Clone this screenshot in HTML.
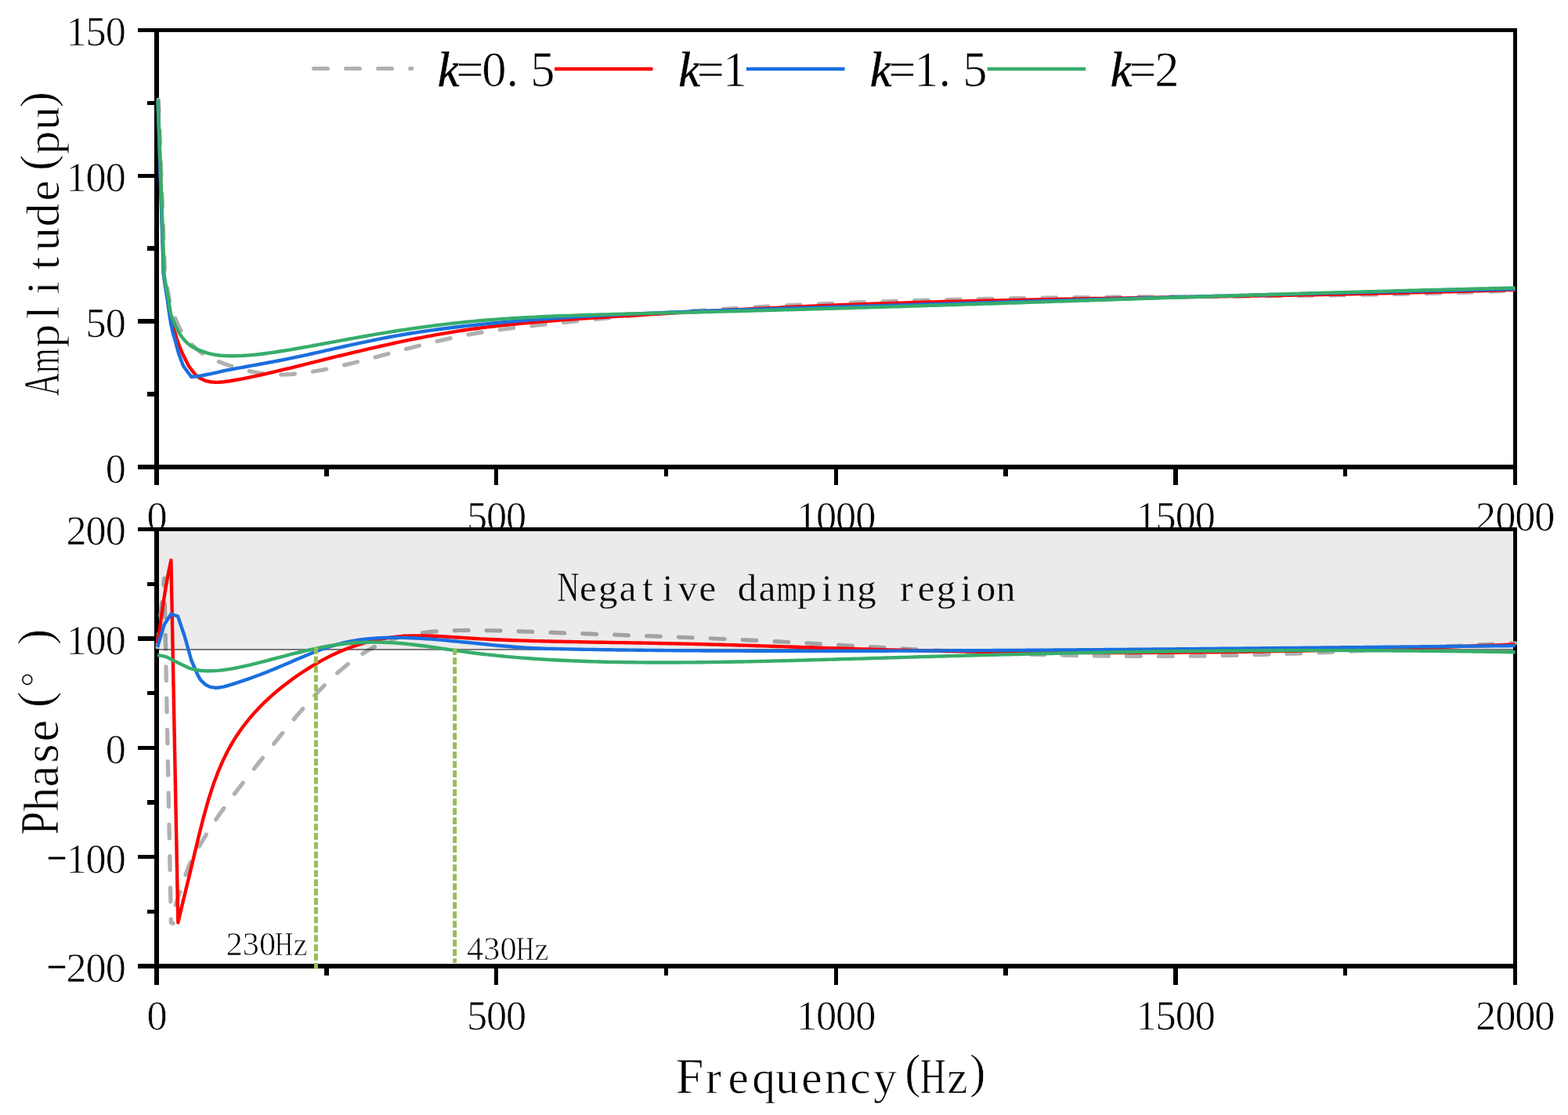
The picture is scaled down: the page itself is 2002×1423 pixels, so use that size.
<!DOCTYPE html>
<html lang="en"><head><meta charset="utf-8"><title>Amplitude and phase versus frequency</title>
<style>html,body{margin:0;padding:0;background:#fff;overflow:hidden}svg{display:block}text{font-family:'Liberation Serif',serif;fill:#000;white-space:pre;stroke:#fff;stroke-width:0.7px}.ong text{stroke:#ebebeb;stroke-width:0.4px}</style>
</head><body>
<svg width="2002" height="1423" viewBox="0 0 2002 1423">
<desc>Amplitude(pu) Phase(°) Frequency(Hz) Negative damping region 230Hz 430Hz k=0.5 k=1 k=1.5 k=2</desc>
<rect width="2002" height="1423" fill="#fff"/>
<g id="top-plot">
<g stroke="#000" fill="none" shape-rendering="crispEdges">
<path stroke-width="5.5" d="M197.2 38.3 H1937.1"/>
<path stroke-width="5.2" d="M1934.5 38.3 V619"/>
<path stroke-width="6" d="M200.2 35.8 V619"/>
<path stroke-width="6" d="M175.9 596 H1937"/>
<path stroke-width="5.4" d="M175.9 410.1H200.2M175.9 224.2H200.2M175.9 38.3H200.2M188.2 503.05H200.2M188.2 317.15H200.2M188.2 131.25H200.2M633.77 596V619M1067.35 596V619M1500.92 596V619M416.99 596V607.5M850.56 596V607.5M1284.14 596V607.5M1717.71 596V607.5"/>
</g>
<g id="top-yticks">
<text font-size="52.3" text-anchor="middle" aria-label="0"><tspan x="147.8" y="615.5">0</tspan></text>
<text font-size="52.3" text-anchor="middle" aria-label="50"><tspan x="122.7 147.8" y="429.6">50</tspan></text>
<text font-size="52.3" text-anchor="middle" aria-label="100"><tspan x="97.6 122.7 147.8" y="243.7">100</tspan></text>
<text font-size="52.3" text-anchor="middle" aria-label="150"><tspan x="97.6 122.7 147.8" y="57.8">150</tspan></text>
</g>
<g id="top-xticks">
<text font-size="52.3" text-anchor="middle" aria-label="0"><tspan x="200.5" y="677.3">0</tspan></text>
<text font-size="52.3" text-anchor="middle" aria-label="500"><tspan x="608.97 634.07 659.17" y="677.3">500</tspan></text>
<text font-size="52.3" text-anchor="middle" aria-label="1000"><tspan x="1030 1055.1 1080.2 1105.3" y="677.3">1000</tspan></text>
<text font-size="52.3" text-anchor="middle" aria-label="1500"><tspan x="1463.57 1488.67 1513.77 1538.88" y="677.3">1500</tspan></text>
<text font-size="52.3" text-anchor="middle" aria-label="2000"><tspan x="1897.15 1922.25 1947.35 1972.45" y="677.3">2000</tspan></text>
</g>
<g fill="none" stroke-linejoin="round" stroke-linecap="butt">
<g transform="scale(1.0135,1)"><path fill="none" stroke="#b0b0b0" stroke-width="5.2" stroke-linecap="round" stroke-linejoin="round" stroke-dasharray="17.3 23" stroke-dashoffset="1" d="M199.61 127 L207.2 335 L207.6 349 L210.75 367.6 L212.53 377.7 L213.52 383.9 L216.58 395 L220.62 405.8 L223.38 413 L227.33 421 L233.35 430.5 L239.76 438 L247.16 445 L254.56 451 L260.48 454.27 L266.4 457.35 L272.32 460.1 L278.24 462.57 L284.16 464.81 L290.08 466.87 L296 468.78 L301.92 470.54 L307.84 472.14 L313.76 473.55 L319.68 474.79 L325.6 475.83 L331.52 476.68 L337.44 477.32 L343.36 477.77 L349.28 478.01 L355.2 478.05 L361.12 477.89 L367.04 477.55 L372.96 477.06 L378.89 476.42 L384.81 475.66 L390.73 474.78 L396.65 473.8 L402.57 472.73 L408.49 471.58 L414.41 470.35 L420.33 469.07 L426.25 467.72 L432.17 466.32 L438.09 464.89 L444.01 463.41 L449.93 461.9 L455.85 460.37 L461.77 458.82 L467.69 457.25 L473.61 455.66 L479.53 454.07 L485.45 452.47 L491.37 450.87 L497.29 449.27 L503.21 447.67 L509.13 446.09 L515.05 444.52 L520.97 442.96 L526.89 441.43 L532.81 439.92 L538.73 438.44 L544.65 436.99 L550.57 435.57 L556.49 434.18 L562.41 432.84 L568.33 431.53 L574.25 430.27 L580.17 429.05 L586.09 427.88 L592.01 426.76 L597.93 425.68 L603.85 424.66 L609.77 423.69 L615.69 422.76 L621.61 421.88 L627.53 421.04 L633.45 420.23 L639.37 419.46 L645.29 418.71 L651.21 417.98 L657.13 417.28 L663.05 416.6 L668.97 415.93 L674.89 415.27 L680.81 414.62 L686.73 413.98 L692.65 413.34 L698.57 412.71 L704.49 412.08 L710.41 411.45 L716.33 410.83 L722.25 410.21 L728.17 409.6 L734.09 408.99 L740.01 408.39 L745.93 407.79 L751.85 407.21 L757.77 406.62 L763.69 406.05 L769.61 405.48 L775.53 404.92 L781.45 404.37 L787.37 403.83 L793.29 403.29 L799.21 402.77 L805.13 402.25 L811.05 401.75 L816.97 401.25 L822.89 400.76 L828.81 400.28 L834.73 399.8 L840.65 399.34 L846.57 398.88 L852.49 398.43 L858.41 397.99 L864.33 397.56 L870.25 397.13 L876.17 396.71 L882.09 396.3 L888.01 395.89 L893.93 395.49 L899.85 395.1 L905.77 394.72 L911.69 394.34 L917.61 393.97 L923.53 393.6 L929.45 393.25 L935.37 392.89 L941.29 392.55 L947.21 392.21 L953.13 391.87 L959.05 391.55 L964.97 391.22 L970.89 390.91 L976.81 390.6 L982.73 390.29 L988.65 389.99 L994.57 389.7 L1000.49 389.41 L1006.41 389.12 L1012.33 388.84 L1018.25 388.57 L1024.17 388.3 L1030.09 388.04 L1036.01 387.78 L1041.93 387.53 L1047.85 387.28 L1053.77 387.03 L1059.69 386.79 L1065.61 386.56 L1071.53 386.33 L1077.45 386.1 L1083.37 385.88 L1089.29 385.66 L1095.21 385.45 L1101.13 385.24 L1107.05 385.04 L1112.97 384.84 L1118.89 384.64 L1124.81 384.45 L1130.74 384.26 L1136.66 384.08 L1142.58 383.9 L1148.5 383.72 L1154.42 383.55 L1160.34 383.38 L1166.26 383.21 L1172.18 383.05 L1178.1 382.89 L1184.02 382.74 L1189.94 382.59 L1195.86 382.44 L1201.78 382.29 L1207.7 382.15 L1213.62 382.02 L1219.54 381.88 L1225.46 381.75 L1231.38 381.62 L1237.3 381.5 L1243.22 381.38 L1249.14 381.26 L1255.06 381.15 L1260.98 381.03 L1266.9 380.93 L1272.82 380.82 L1278.74 380.72 L1284.66 380.62 L1290.58 380.52 L1296.5 380.43 L1302.42 380.33 L1308.34 380.25 L1314.26 380.16 L1320.18 380.08 L1326.1 380 L1332.02 379.92 L1337.94 379.84 L1343.86 379.77 L1349.78 379.7 L1355.7 379.63 L1361.62 379.57 L1367.54 379.51 L1373.46 379.45 L1379.38 379.39 L1385.3 379.33 L1391.22 379.28 L1397.14 379.23 L1403.06 379.18 L1408.98 379.13 L1414.9 379.08 L1420.82 379.04 L1426.74 378.99 L1432.66 378.95 L1438.58 378.91 L1444.5 378.87 L1450.42 378.83 L1456.34 378.79 L1462.26 378.75 L1468.18 378.71 L1474.1 378.67 L1480.02 378.63 L1485.94 378.59 L1491.86 378.56 L1497.78 378.52 L1503.7 378.48 L1509.62 378.44 L1515.54 378.4 L1521.46 378.36 L1527.38 378.32 L1533.3 378.28 L1539.22 378.24 L1545.14 378.2 L1551.06 378.16 L1556.98 378.11 L1562.9 378.07 L1568.82 378.02 L1574.74 377.97 L1580.66 377.92 L1586.58 377.87 L1592.5 377.82 L1598.42 377.77 L1604.34 377.71 L1610.26 377.66 L1616.18 377.6 L1622.1 377.54 L1628.02 377.47 L1633.94 377.41 L1639.86 377.34 L1645.78 377.27 L1651.7 377.2 L1657.62 377.13 L1663.54 377.05 L1669.46 376.97 L1675.38 376.89 L1681.3 376.81 L1687.22 376.72 L1693.14 376.63 L1699.06 376.54 L1704.98 376.44 L1710.9 376.34 L1716.82 376.24 L1722.74 376.14 L1728.66 376.03 L1734.58 375.92 L1740.5 375.81 L1746.42 375.69 L1752.34 375.57 L1758.26 375.44 L1764.18 375.32 L1770.1 375.18 L1776.02 375.05 L1781.94 374.91 L1787.86 374.77 L1793.78 374.62 L1799.7 374.47 L1805.62 374.32 L1811.54 374.16 L1817.46 374 L1823.38 373.84 L1829.3 373.67 L1835.22 373.49 L1841.14 373.32 L1847.06 373.13 L1852.98 372.95 L1858.9 372.76 L1864.82 372.56 L1870.74 372.36 L1876.67 372.16 L1882.59 371.95 L1888.51 371.74 L1894.43 371.52 L1900.35 371.3 L1906.27 371.07 L1908.73 370.98"/></g>
<path stroke="#ff0000" stroke-width="4.4" d="M201.6 127 L208.7 335 L209 349 L210.3 357 L212.6 371 L215 385 L217.3 401 L220.6 417 L223.4 425 L226.2 434 L228.8 441 L232.9 451 L240.9 467 L246.9 475 L250 478.79 L256 483.1 L262 485.77 L268 487.24 L274 487.83 L280 487.79 L286 487.3 L292 486.51 L298 485.53 L304 484.44 L310 483.29 L316 482.09 L322 480.84 L328 479.55 L334 478.23 L340 476.88 L346 475.49 L352 474.09 L358 472.67 L364 471.22 L370 469.77 L376 468.3 L382 466.83 L388 465.35 L394 463.86 L400 462.37 L406 460.88 L412 459.4 L418 457.92 L424 456.44 L430 454.97 L436 453.51 L442 452.06 L448 450.62 L454 449.19 L460 447.77 L466 446.37 L472 444.98 L478 443.6 L484 442.24 L490 440.89 L496 439.56 L502 438.25 L508 436.96 L514 435.69 L520 434.44 L526 433.21 L532 432.01 L538 430.83 L544 429.68 L550 428.55 L556 427.46 L562 426.39 L568 425.35 L574 424.35 L580 423.37 L586 422.43 L592 421.51 L598 420.63 L604 419.79 L610 418.97 L616 418.19 L622 417.44 L628 416.71 L634 416.01 L640 415.34 L646 414.69 L652 414.06 L658 413.46 L664 412.87 L670 412.3 L676 411.76 L682 411.22 L688 410.71 L694 410.21 L700 409.72 L706 409.25 L712 408.79 L718 408.34 L724 407.9 L730 407.47 L736 407.05 L742 406.64 L748 406.24 L754 405.84 L760 405.45 L766 405.07 L772 404.69 L778 404.32 L784 403.94 L790 403.58 L796 403.21 L802 402.85 L808 402.49 L814 402.14 L820 401.78 L826 401.43 L832 401.08 L838 400.73 L844 400.38 L850 400.04 L856 399.69 L862 399.35 L868 399.02 L874 398.68 L880 398.35 L886 398.02 L892 397.7 L898 397.37 L904 397.05 L910 396.73 L916 396.42 L922 396.11 L928 395.8 L934 395.49 L940 395.19 L946 394.89 L952 394.59 L958 394.29 L964 394 L970 393.71 L976 393.43 L982 393.14 L988 392.87 L994 392.59 L1000 392.32 L1006 392.05 L1012 391.78 L1018 391.52 L1024 391.26 L1030 391 L1036 390.75 L1042 390.5 L1048 390.25 L1054 390.01 L1060 389.77 L1066 389.53 L1072 389.3 L1078 389.07 L1084 388.84 L1090 388.62 L1096 388.4 L1102 388.18 L1108 387.97 L1114 387.76 L1120 387.56 L1126 387.35 L1132 387.16 L1138 386.96 L1144 386.77 L1150 386.58 L1156 386.4 L1162 386.22 L1168 386.04 L1174 385.87 L1180 385.7 L1186 385.53 L1192 385.37 L1198 385.2 L1204 385.05 L1210 384.89 L1216 384.74 L1222 384.59 L1228 384.44 L1234 384.3 L1240 384.15 L1246 384.01 L1252 383.88 L1258 383.74 L1264 383.61 L1270 383.48 L1276 383.35 L1282 383.22 L1288 383.09 L1294 382.97 L1300 382.85 L1306 382.73 L1312 382.61 L1318 382.49 L1324 382.37 L1330 382.26 L1336 382.14 L1342 382.03 L1348 381.92 L1354 381.81 L1360 381.7 L1366 381.59 L1372 381.49 L1378 381.38 L1384 381.28 L1390 381.17 L1396 381.07 L1402 380.96 L1408 380.86 L1414 380.76 L1420 380.66 L1426 380.56 L1432 380.46 L1438 380.36 L1444 380.26 L1450 380.16 L1456 380.06 L1462 379.96 L1468 379.86 L1474 379.76 L1480 379.66 L1486 379.56 L1492 379.47 L1498 379.37 L1504 379.27 L1510 379.17 L1516 379.07 L1522 378.97 L1528 378.87 L1534 378.77 L1540 378.67 L1546 378.57 L1552 378.47 L1558 378.37 L1564 378.26 L1570 378.16 L1576 378.06 L1582 377.95 L1588 377.85 L1594 377.74 L1600 377.64 L1606 377.53 L1612 377.42 L1618 377.32 L1624 377.21 L1630 377.1 L1636 376.99 L1642 376.88 L1648 376.76 L1654 376.65 L1660 376.54 L1666 376.42 L1672 376.3 L1678 376.19 L1684 376.07 L1690 375.95 L1696 375.83 L1702 375.7 L1708 375.58 L1714 375.46 L1720 375.33 L1726 375.2 L1732 375.07 L1738 374.94 L1744 374.81 L1750 374.68 L1756 374.55 L1762 374.41 L1768 374.27 L1774 374.14 L1780 374 L1786 373.86 L1792 373.71 L1798 373.57 L1804 373.42 L1810 373.27 L1816 373.12 L1822 372.97 L1828 372.82 L1834 372.67 L1840 372.51 L1846 372.35 L1852 372.19 L1858 372.03 L1864 371.87 L1870 371.7 L1876 371.54 L1882 371.37 L1888 371.2 L1894 371.03 L1900 370.85 L1906 370.68 L1912 370.5 L1918 370.32 L1924 370.14 L1930 369.95 L1934.5 369.81"/>
<path stroke="#1a6fdf" stroke-width="4.4" d="M201.4 127 L208.3 335 L208.6 349 L209.2 352.8 L210.2 360.8 L211.2 366.9 L212.2 373.3 L213.2 379.7 L214.2 385.6 L216.2 401 L218.2 413 L220.8 425 L223.5 434 L228 451 L234 467 L244.3 481 L253 480.1 L262 478.5 L270 476.9 L277 475.4 L284 473.67 L290 472.45 L296 471.29 L302 470.16 L308 469.06 L314 467.97 L320 466.89 L326 465.81 L332 464.72 L338 463.61 L344 462.5 L350 461.37 L356 460.22 L362 459.04 L368 457.85 L374 456.63 L380 455.39 L386 454.12 L392 452.82 L398 451.5 L404 450.16 L410 448.8 L416 447.44 L422 446.08 L428 444.72 L434 443.36 L440 442.02 L446 440.69 L452 439.37 L458 438.07 L464 436.79 L470 435.53 L476 434.3 L482 433.09 L488 431.91 L494 430.77 L500 429.65 L506 428.57 L512 427.52 L518 426.5 L524 425.52 L530 424.57 L536 423.65 L542 422.76 L548 421.89 L554 421.06 L560 420.25 L566 419.46 L572 418.7 L578 417.96 L584 417.24 L590 416.54 L596 415.86 L602 415.21 L608 414.57 L614 413.95 L620 413.34 L626 412.76 L632 412.19 L638 411.63 L644 411.09 L650 410.57 L656 410.06 L662 409.56 L668 409.08 L674 408.6 L680 408.14 L686 407.7 L692 407.26 L698 406.84 L704 406.42 L710 406.02 L716 405.62 L722 405.24 L728 404.86 L734 404.49 L740 404.14 L746 403.79 L752 403.44 L758 403.11 L764 402.78 L770 402.46 L776 402.15 L782 401.85 L788 401.55 L794 401.25 L800 400.97 L806 400.68 L812 400.41 L818 400.14 L824 399.87 L830 399.61 L836 399.36 L842 399.11 L848 398.86 L854 398.62 L860 398.38 L866 398.15 L872 397.92 L878 397.69 L884 397.47 L890 397.25 L896 397.04 L902 396.82 L908 396.61 L914 396.41 L920 396.2 L926 396 L932 395.8 L938 395.6 L944 395.41 L950 395.22 L956 395.03 L962 394.84 L968 394.65 L974 394.46 L980 394.28 L986 394.1 L992 393.92 L998 393.74 L1004 393.56 L1010 393.38 L1016 393.2 L1022 393.03 L1028 392.85 L1034 392.68 L1040 392.51 L1046 392.34 L1052 392.16 L1058 391.99 L1064 391.82 L1070 391.65 L1076 391.48 L1082 391.31 L1088 391.14 L1094 390.97 L1100 390.8 L1106 390.63 L1112 390.46 L1118 390.29 L1124 390.12 L1130 389.95 L1136 389.78 L1142 389.6 L1148 389.43 L1154 389.26 L1160 389.09 L1166 388.91 L1172 388.74 L1178 388.57 L1184 388.39 L1190 388.22 L1196 388.04 L1202 387.87 L1208 387.7 L1214 387.52 L1220 387.35 L1226 387.17 L1232 387 L1238 386.82 L1244 386.65 L1250 386.47 L1256 386.29 L1262 386.12 L1268 385.94 L1274 385.77 L1280 385.59 L1286 385.42 L1292 385.24 L1298 385.07 L1304 384.89 L1310 384.72 L1316 384.54 L1322 384.37 L1328 384.2 L1334 384.02 L1340 383.85 L1346 383.67 L1352 383.5 L1358 383.33 L1364 383.15 L1370 382.98 L1376 382.81 L1382 382.64 L1388 382.46 L1394 382.29 L1400 382.12 L1406 381.95 L1412 381.78 L1418 381.61 L1424 381.44 L1430 381.27 L1436 381.1 L1442 380.93 L1448 380.76 L1454 380.59 L1460 380.42 L1466 380.25 L1472 380.09 L1478 379.92 L1484 379.75 L1490 379.59 L1496 379.42 L1502 379.25 L1508 379.09 L1514 378.93 L1520 378.76 L1526 378.6 L1532 378.44 L1538 378.27 L1544 378.11 L1550 377.95 L1556 377.79 L1562 377.63 L1568 377.47 L1574 377.31 L1580 377.15 L1586 376.99 L1592 376.83 L1598 376.68 L1604 376.52 L1610 376.36 L1616 376.21 L1622 376.05 L1628 375.9 L1634 375.74 L1640 375.59 L1646 375.44 L1652 375.29 L1658 375.13 L1664 374.98 L1670 374.83 L1676 374.68 L1682 374.53 L1688 374.39 L1694 374.24 L1700 374.09 L1706 373.95 L1712 373.8 L1718 373.66 L1724 373.51 L1730 373.37 L1736 373.22 L1742 373.08 L1748 372.94 L1754 372.8 L1760 372.66 L1766 372.52 L1772 372.38 L1778 372.24 L1784 372.11 L1790 371.97 L1796 371.83 L1802 371.7 L1808 371.56 L1814 371.43 L1820 371.3 L1826 371.16 L1832 371.03 L1838 370.9 L1844 370.77 L1850 370.64 L1856 370.51 L1862 370.39 L1868 370.26 L1874 370.13 L1880 370.01 L1886 369.88 L1892 369.76 L1898 369.63 L1904 369.51 L1910 369.39 L1916 369.27 L1922 369.15 L1928 369.03 L1934 368.91 L1934.5 368.9"/>
<path stroke="#37ad6b" stroke-width="4.4" d="M201.8 127 L209.1 335 L209.4 349 L211.5 363 L213.7 375 L215.8 386 L218 401 L222.8 413 L228.6 425 L234.5 433 L238.8 437.6 L244.1 441.8 L250 445 L256.1 447.7 L262 449.7 L264 450.35 L270 451.89 L276 452.98 L282 453.7 L288 454.13 L294 454.32 L300 454.32 L306 454.14 L312 453.82 L318 453.37 L324 452.83 L330 452.19 L336 451.48 L342 450.7 L348 449.86 L354 448.97 L360 448.03 L366 447.07 L372 446.06 L378 445.04 L384 443.99 L390 442.92 L396 441.83 L402 440.74 L408 439.64 L414 438.53 L420 437.42 L426 436.31 L432 435.21 L438 434.1 L444 433.01 L450 431.92 L456 430.85 L462 429.78 L468 428.73 L474 427.69 L480 426.66 L486 425.65 L492 424.66 L498 423.68 L504 422.72 L510 421.79 L516 420.87 L522 419.97 L528 419.09 L534 418.24 L540 417.41 L546 416.6 L552 415.81 L558 415.05 L564 414.31 L570 413.59 L576 412.91 L582 412.24 L588 411.6 L594 410.99 L600 410.4 L606 409.84 L612 409.3 L618 408.79 L624 408.31 L630 407.85 L636 407.41 L642 406.99 L648 406.6 L654 406.22 L660 405.86 L666 405.51 L672 405.19 L678 404.88 L684 404.58 L690 404.29 L696 404.02 L702 403.76 L708 403.52 L714 403.28 L720 403.05 L726 402.83 L732 402.62 L738 402.42 L744 402.23 L750 402.04 L756 401.85 L762 401.68 L768 401.51 L774 401.34 L780 401.17 L786 401.01 L792 400.86 L798 400.7 L804 400.55 L810 400.4 L816 400.25 L822 400.1 L828 399.95 L834 399.8 L840 399.66 L846 399.51 L852 399.36 L858 399.21 L864 399.06 L870 398.9 L876 398.75 L882 398.6 L888 398.45 L894 398.29 L900 398.14 L906 397.98 L912 397.83 L918 397.67 L924 397.51 L930 397.35 L936 397.2 L942 397.04 L948 396.88 L954 396.72 L960 396.55 L966 396.39 L972 396.23 L978 396.07 L984 395.9 L990 395.74 L996 395.57 L1002 395.41 L1008 395.24 L1014 395.07 L1020 394.91 L1026 394.74 L1032 394.57 L1038 394.4 L1044 394.23 L1050 394.06 L1056 393.88 L1062 393.71 L1068 393.54 L1074 393.36 L1080 393.19 L1086 393.01 L1092 392.84 L1098 392.66 L1104 392.48 L1110 392.3 L1116 392.12 L1122 391.94 L1128 391.76 L1134 391.58 L1140 391.4 L1146 391.22 L1152 391.04 L1158 390.85 L1164 390.67 L1170 390.48 L1176 390.3 L1182 390.11 L1188 389.92 L1194 389.73 L1200 389.54 L1206 389.36 L1212 389.17 L1218 388.97 L1224 388.78 L1230 388.59 L1236 388.4 L1242 388.21 L1248 388.01 L1254 387.82 L1260 387.62 L1266 387.43 L1272 387.23 L1278 387.04 L1284 386.84 L1290 386.64 L1296 386.45 L1302 386.25 L1308 386.05 L1314 385.85 L1320 385.66 L1326 385.46 L1332 385.26 L1338 385.06 L1344 384.86 L1350 384.66 L1356 384.47 L1362 384.27 L1368 384.07 L1374 383.87 L1380 383.67 L1386 383.47 L1392 383.27 L1398 383.07 L1404 382.88 L1410 382.68 L1416 382.48 L1422 382.28 L1428 382.08 L1434 381.89 L1440 381.69 L1446 381.49 L1452 381.29 L1458 381.1 L1464 380.9 L1470 380.71 L1476 380.51 L1482 380.31 L1488 380.12 L1494 379.92 L1500 379.73 L1506 379.54 L1512 379.34 L1518 379.15 L1524 378.96 L1530 378.76 L1536 378.57 L1542 378.38 L1548 378.19 L1554 378 L1560 377.81 L1566 377.62 L1572 377.43 L1578 377.24 L1584 377.06 L1590 376.87 L1596 376.68 L1602 376.5 L1608 376.31 L1614 376.13 L1620 375.94 L1626 375.76 L1632 375.58 L1638 375.4 L1644 375.22 L1650 375.03 L1656 374.86 L1662 374.68 L1668 374.5 L1674 374.32 L1680 374.14 L1686 373.97 L1692 373.79 L1698 373.62 L1704 373.44 L1710 373.27 L1716 373.1 L1722 372.93 L1728 372.76 L1734 372.59 L1740 372.42 L1746 372.25 L1752 372.08 L1758 371.92 L1764 371.75 L1770 371.59 L1776 371.42 L1782 371.26 L1788 371.1 L1794 370.94 L1800 370.78 L1806 370.62 L1812 370.46 L1818 370.31 L1824 370.15 L1830 369.99 L1836 369.84 L1842 369.69 L1848 369.53 L1854 369.38 L1860 369.23 L1866 369.08 L1872 368.94 L1878 368.79 L1884 368.64 L1890 368.5 L1896 368.35 L1902 368.21 L1908 368.07 L1914 367.93 L1920 367.79 L1926 367.65 L1932 367.51 L1934.5 367.46"/>
</g>
<g id="legend">
<path d="M400.5 87.5 H526" fill="none" stroke="#b0b0b0" stroke-width="5" stroke-linecap="round" stroke-dasharray="18 23"/>
<path d="M708 88 h125.5" fill="none" stroke="#ff0000" stroke-width="4.4"/>
<path d="M953 88 h125.5" fill="none" stroke="#1a6fdf" stroke-width="4.4"/>
<path d="M1260.6 88 h125.5" fill="none" stroke="#37ad6b" stroke-width="4.4"/>
<text font-size="62.5" text-anchor="middle" aria-label="k=0.5"><tspan x="572.5" y="109.6" font-style="italic" stroke="#000" stroke-width="0.5">k</tspan><tspan x="599.8 630.85 654.4 692.95" y="109.6">=0.5</tspan></text>
<text font-size="62.5" text-anchor="middle" aria-label="k=1"><tspan x="880" y="109.6" font-style="italic" stroke="#000" stroke-width="0.5">k</tspan><tspan x="907.3 938.35" y="109.6">=1</tspan></text>
<text font-size="62.5" text-anchor="middle" aria-label="k=1.5"><tspan x="1124.5" y="109.6" font-style="italic" stroke="#000" stroke-width="0.5">k</tspan><tspan x="1151.8 1182.85 1206.4 1244.95" y="109.6">=1.5</tspan></text>
<text font-size="62.5" text-anchor="middle" aria-label="k=2"><tspan x="1431.5" y="109.6" font-style="italic" stroke="#000" stroke-width="0.5">k</tspan><tspan x="1458.8 1489.85" y="109.6">=2</tspan></text>
</g>
<g transform="rotate(-90)"><text font-size="59.5" text-anchor="middle" aria-label="Amplitude(pu)"><tspan x="-490.6" y="74.9" font-size="65" textLength="29.5" lengthAdjust="spacingAndGlyphs">A</tspan><tspan x="-460.3" y="74.9" textLength="31.5" lengthAdjust="spacingAndGlyphs">m</tspan><tspan x="-428.6 -399 -367.2 -336 -305.2 -274.3 -243.4" y="74.9">plitude</tspan><tspan x="-207.7" y="68.1" font-size="61">(</tspan><tspan x="-182 -151.2" y="74.9">pu</tspan><tspan x="-127" y="68.1" font-size="61">)</tspan></text></g>
</g>
<g id="bottom-plot">
<rect x="197.2" y="672.9" width="1739.9" height="563.2" fill="#fff"/>
<g stroke="#000" fill="none" shape-rendering="crispEdges">
<path stroke-width="5.5" d="M175.9 675.7 H1937.1"/>
<path stroke-width="5.2" d="M1934.5 675.6 V1256.7"/>
<path stroke-width="6" d="M200.2 673.1 V1256.7"/>
<path stroke-width="6" d="M175.9 1233.1 H1937"/>
<path stroke-width="5.4" d="M175.9 1093.72H200.2M175.9 954.35H200.2M175.9 814.98H200.2M187.9 1163.41H200.2M187.9 1024.04H200.2M187.9 884.66H200.2M187.9 745.29H200.2M633.77 1233.1V1256.7M1067.35 1233.1V1256.7M1500.92 1233.1V1256.7M416.99 1233.1V1244.7M850.56 1233.1V1244.7M1284.14 1233.1V1244.7M1717.71 1233.1V1244.7"/>
</g>
<g transform="scale(1.015,1)"><path fill="none" stroke="#b0b0b0" stroke-width="5.2" stroke-linecap="round" stroke-linejoin="round" stroke-dasharray="17.6 22.7" stroke-dashoffset="0.3" d="M198.1 826 L206.64 738 L215.17 1176 L217.73 1178.6"/></g>
<g transform="scale(1.015,1)"><path fill="none" stroke="#b0b0b0" stroke-width="5.2" stroke-linecap="round" stroke-linejoin="round" stroke-dasharray="17.6 22.7" stroke-dashoffset="17" d="M215.17 1177.5 L218.72 1162.22 L224.63 1143.21 L230.54 1125.29 L236.45 1107.99 L242.36 1094.45 L248.28 1084.06 L254.19 1074.01 L260.1 1064 L266.01 1054.49 L271.92 1045.44 L277.83 1036.77 L283.74 1028.4 L289.66 1020.27 L295.57 1012.33 L301.48 1004.53 L307.39 996.83 L313.3 989.21 L319.21 981.64 L325.12 974.08 L331.03 966.53 L336.95 958.96 L342.86 951.42 L348.77 943.91 L354.68 936.45 L360.59 929.08 L366.5 921.79 L372.41 914.6 L378.33 907.55 L384.24 900.63 L390.15 893.89 L396.06 887.33 L401.97 880.96 L407.88 874.82 L413.79 868.9 L419.7 863.22 L425.62 857.79 L431.53 852.63 L437.44 847.74 L443.35 843.12 L449.26 838.8 L455.17 834.78 L461.08 831.05 L467 827.64 L472.91 824.54 L478.82 821.75 L484.73 819.26 L490.64 817.03 L496.55 815.06 L502.46 813.32 L508.37 811.79 L514.29 810.46 L520.2 809.3 L526.11 808.31 L532.02 807.47 L537.93 806.76 L543.84 806.18 L549.75 805.7 L555.67 805.32 L561.58 805.02 L567.49 804.8 L573.4 804.63 L579.31 804.52 L585.22 804.46 L591.13 804.43 L597.04 804.43 L602.96 804.47 L608.87 804.53 L614.78 804.62 L620.69 804.73 L626.6 804.87 L632.51 805.02 L638.42 805.19 L644.33 805.38 L650.25 805.57 L656.16 805.78 L662.07 806 L667.98 806.22 L673.89 806.45 L679.8 806.68 L685.71 806.92 L691.63 807.15 L697.54 807.38 L703.45 807.61 L709.36 807.84 L715.27 808.07 L721.18 808.29 L727.09 808.51 L733 808.72 L738.92 808.94 L744.83 809.16 L750.74 809.37 L756.65 809.58 L762.56 809.79 L768.47 810 L774.38 810.22 L780.3 810.43 L786.21 810.64 L792.12 810.85 L798.03 811.06 L803.94 811.28 L809.85 811.49 L815.76 811.71 L821.67 811.93 L827.59 812.15 L833.5 812.37 L839.41 812.59 L845.32 812.82 L851.23 813.05 L857.14 813.28 L863.05 813.51 L868.97 813.75 L874.88 813.99 L880.79 814.23 L886.7 814.47 L892.61 814.72 L898.52 814.98 L904.43 815.23 L910.34 815.49 L916.26 815.76 L922.17 816.02 L928.08 816.3 L933.99 816.57 L939.9 816.85 L945.81 817.14 L951.72 817.43 L957.64 817.72 L963.55 818.02 L969.46 818.33 L975.37 818.64 L981.28 818.95 L987.19 819.27 L993.1 819.59 L999.01 819.92 L1004.93 820.26 L1010.84 820.59 L1016.75 820.93 L1022.66 821.28 L1028.57 821.62 L1034.48 821.97 L1040.39 822.32 L1046.31 822.67 L1052.22 823.02 L1058.13 823.38 L1064.04 823.73 L1069.95 824.09 L1075.86 824.44 L1081.77 824.79 L1087.68 825.15 L1093.6 825.5 L1099.51 825.85 L1105.42 826.2 L1111.33 826.54 L1117.24 826.89 L1123.15 827.23 L1129.06 827.57 L1134.98 827.91 L1140.89 828.24 L1146.8 828.57 L1152.71 828.9 L1158.62 829.22 L1164.53 829.54 L1170.44 829.85 L1176.35 830.16 L1182.27 830.46 L1188.18 830.76 L1194.09 831.06 L1200 831.35 L1205.91 831.63 L1211.82 831.9 L1217.73 832.17 L1223.65 832.44 L1229.56 832.7 L1235.47 832.95 L1241.38 833.19 L1247.29 833.43 L1253.2 833.66 L1259.11 833.89 L1265.02 834.1 L1270.94 834.32 L1276.85 834.52 L1282.76 834.72 L1288.67 834.91 L1294.58 835.1 L1300.49 835.28 L1306.4 835.45 L1312.32 835.61 L1318.23 835.77 L1324.14 835.92 L1330.05 836.06 L1335.96 836.2 L1341.87 836.33 L1347.78 836.46 L1353.69 836.57 L1359.61 836.68 L1365.52 836.79 L1371.43 836.88 L1377.34 836.97 L1383.25 837.05 L1389.16 837.13 L1395.07 837.2 L1400.99 837.26 L1406.9 837.31 L1412.81 837.36 L1418.72 837.4 L1424.63 837.43 L1430.54 837.46 L1436.45 837.48 L1442.36 837.49 L1448.28 837.49 L1454.19 837.49 L1460.1 837.48 L1466.01 837.46 L1471.92 837.44 L1477.83 837.41 L1483.74 837.37 L1489.66 837.32 L1495.57 837.27 L1501.48 837.21 L1507.39 837.14 L1513.3 837.07 L1519.21 836.99 L1525.12 836.9 L1531.03 836.8 L1536.95 836.7 L1542.86 836.59 L1548.77 836.47 L1554.68 836.35 L1560.59 836.21 L1566.5 836.07 L1572.41 835.93 L1578.33 835.77 L1584.24 835.61 L1590.15 835.44 L1596.06 835.26 L1601.97 835.08 L1607.88 834.89 L1613.79 834.69 L1619.7 834.48 L1625.62 834.27 L1631.53 834.05 L1637.44 833.82 L1643.35 833.59 L1649.26 833.35 L1655.17 833.1 L1661.08 832.85 L1667 832.59 L1672.91 832.32 L1678.82 832.05 L1684.73 831.78 L1690.64 831.5 L1696.55 831.22 L1702.46 830.94 L1708.37 830.65 L1714.29 830.36 L1720.2 830.06 L1726.11 829.76 L1732.02 829.47 L1737.93 829.16 L1743.84 828.86 L1749.75 828.56 L1755.67 828.25 L1761.58 827.95 L1767.49 827.64 L1773.4 827.33 L1779.31 827.03 L1785.22 826.72 L1791.13 826.42 L1797.04 826.11 L1802.96 825.81 L1808.87 825.5 L1814.78 825.2 L1820.69 824.9 L1826.6 824.61 L1832.51 824.31 L1838.42 824.02 L1844.33 823.73 L1850.25 823.44 L1856.16 823.16 L1862.07 822.88 L1867.98 822.6 L1873.89 822.33 L1879.8 822.06 L1885.71 821.79 L1891.63 821.53 L1897.54 821.28 L1903.45 821.03 L1905.91 820.92"/></g>
<rect x="203.2" y="678.3" width="1728.7" height="150.61" fill="#000" fill-opacity="0.078"/>
<path d="M203.2 828.91 H1931.9" stroke="#000" stroke-opacity="0.5" stroke-width="2" fill="none" shape-rendering="crispEdges"/>
<g class="ong"><text font-size="49" text-anchor="middle" aria-label="Negative damping region"><tspan x="725.5" y="767" font-size="51.8" textLength="27.5" lengthAdjust="spacingAndGlyphs">N</tspan><tspan x="750.9 776.3 801.7 827.1 852.5 877.9 903.3 928.7 954.1 979.5" y="767">egative da</tspan><tspan x="1004.9" y="767" textLength="27" lengthAdjust="spacingAndGlyphs">m</tspan><tspan x="1030.3 1055.7 1081.1 1106.5 1131.9 1157.3 1182.7 1208.1 1233.5 1258.9 1284.3" y="767">ping region</tspan></text></g>
<g fill="none" stroke-linejoin="round" stroke-linecap="butt">
<path stroke="#ff0000" stroke-width="4.4" d="M201.07 821 L203.6 805.5 L205.5 791 L208.4 770.5 L209.74 761.5 L211.6 750 L214 736.5 L218.4 715 L227.3 1177.5 L233.7 1150.2 L236 1141.08 L242 1116.36 L248 1091.33 L254 1066.31 L260 1042.54 L266 1021.02 L272 1002.32 L278 986.17 L284 972.11 L290 959.8 L296 948.92 L302 939.21 L308 930.48 L314 922.53 L320 915.21 L326 908.39 L332 902.01 L338 896.03 L344 890.39 L350 885.06 L356 880.01 L362 875.21 L368 870.63 L374 866.24 L380 862.03 L386 857.97 L392 854.07 L398 850.34 L404 846.77 L410 843.37 L416 840.14 L422 837.09 L428 834.22 L434 831.53 L440 829.03 L446 826.7 L452 824.56 L458 822.6 L464 820.8 L470 819.18 L476 817.71 L482 816.41 L488 815.27 L494 814.27 L500 813.43 L506 812.74 L512 812.18 L518 811.77 L524 811.5 L530 811.36 L536 811.33 L542 811.39 L548 811.54 L554 811.76 L560 812.04 L566 812.36 L572 812.71 L578 813.09 L584 813.49 L590 813.88 L596 814.27 L602 814.64 L608 814.99 L614 815.33 L620 815.64 L626 815.94 L632 816.21 L638 816.48 L644 816.72 L650 816.96 L656 817.18 L662 817.38 L668 817.58 L674 817.77 L680 817.94 L686 818.11 L692 818.26 L698 818.41 L704 818.55 L710 818.69 L716 818.82 L722 818.94 L728 819.06 L734 819.17 L740 819.28 L746 819.39 L752 819.49 L758 819.59 L764 819.69 L770 819.79 L776 819.89 L782 819.98 L788 820.08 L794 820.17 L800 820.27 L806 820.37 L812 820.47 L818 820.57 L824 820.67 L830 820.77 L836 820.88 L842 820.99 L848 821.1 L854 821.22 L860 821.34 L866 821.47 L872 821.59 L878 821.73 L884 821.87 L890 822.01 L896 822.16 L902 822.31 L908 822.47 L914 822.63 L920 822.8 L926 822.96 L932 823.14 L938 823.31 L944 823.49 L950 823.67 L956 823.85 L962 824.04 L968 824.22 L974 824.41 L980 824.6 L986 824.79 L992 824.98 L998 825.17 L1004 825.36 L1010 825.56 L1016 825.75 L1022 825.94 L1028 826.13 L1034 826.32 L1040 826.51 L1046 826.7 L1052 826.89 L1058 827.08 L1064 827.27 L1070 827.45 L1076 827.64 L1082 827.82 L1088 828 L1094 828.17 L1100 828.35 L1106 828.52 L1112 828.69 L1118 828.86 L1124 829.03 L1130 829.19 L1136 829.35 L1142 829.5 L1148 829.66 L1154 829.8 L1160 829.95 L1166 830.09 L1172 830.23 L1178 830.37 L1184 830.5 L1190 830.63 L1196 830.75 L1202 830.87 L1208 830.99 L1214 831.1 L1220 831.21 L1226 831.32 L1232 831.42 L1238 831.52 L1244 831.62 L1250 831.71 L1256 831.8 L1262 831.89 L1268 831.97 L1274 832.05 L1280 832.13 L1286 832.2 L1292 832.27 L1298 832.34 L1304 832.4 L1310 832.46 L1316 832.51 L1322 832.57 L1328 832.62 L1334 832.66 L1340 832.71 L1346 832.75 L1352 832.78 L1358 832.82 L1364 832.85 L1370 832.87 L1376 832.9 L1382 832.92 L1388 832.94 L1394 832.95 L1400 832.96 L1406 832.97 L1412 832.98 L1418 832.98 L1424 832.98 L1430 832.97 L1436 832.97 L1442 832.96 L1448 832.94 L1454 832.93 L1460 832.91 L1466 832.89 L1472 832.86 L1478 832.83 L1484 832.8 L1490 832.77 L1496 832.73 L1502 832.69 L1508 832.64 L1514 832.6 L1520 832.55 L1526 832.5 L1532 832.44 L1538 832.38 L1544 832.32 L1550 832.26 L1556 832.19 L1562 832.12 L1568 832.05 L1574 831.98 L1580 831.9 L1586 831.82 L1592 831.73 L1598 831.65 L1604 831.56 L1610 831.46 L1616 831.37 L1622 831.27 L1628 831.17 L1634 831.07 L1640 830.96 L1646 830.85 L1652 830.74 L1658 830.62 L1664 830.51 L1670 830.38 L1676 830.26 L1682 830.14 L1688 830.01 L1694 829.88 L1700 829.74 L1706 829.61 L1712 829.47 L1718 829.32 L1724 829.18 L1730 829.03 L1736 828.88 L1742 828.73 L1748 828.57 L1754 828.42 L1760 828.25 L1766 828.09 L1772 827.92 L1778 827.76 L1784 827.58 L1790 827.41 L1796 827.23 L1802 827.05 L1808 826.87 L1814 826.69 L1820 826.5 L1826 826.31 L1832 826.12 L1838 825.93 L1844 825.73 L1850 825.53 L1856 825.33 L1862 825.12 L1868 824.91 L1874 824.7 L1880 824.49 L1886 824.28 L1892 824.06 L1898 823.84 L1904 823.61 L1910 823.39 L1916 823.16 L1922 822.93 L1928 822.7 L1934 822.46 L1934.5 822.44"/>
<path stroke="#1a6fdf" stroke-width="4.4" d="M201.07 825.5 L209.74 797 L218.4 783.7 L227.07 786.5 L235.74 812 L244.4 843 L252.8 862.1 L256 867.58 L262 873.5 L268 876.59 L274 877.69 L280 877.45 L286 876.34 L292 874.71 L298 872.85 L304 870.91 L310 868.91 L316 866.85 L322 864.71 L328 862.52 L334 860.26 L340 857.94 L346 855.55 L352 853.1 L358 850.59 L364 848.02 L370 845.42 L376 842.8 L382 840.2 L388 837.65 L394 835.16 L400 832.75 L406 830.45 L412 828.27 L418 826.22 L424 824.32 L430 822.58 L436 821.01 L442 819.62 L448 818.4 L454 817.36 L460 816.47 L466 815.73 L472 815.13 L478 814.64 L484 814.28 L490 814.02 L496 813.86 L502 813.78 L508 813.8 L514 813.88 L520 814.04 L526 814.26 L532 814.55 L538 814.88 L544 815.26 L550 815.68 L556 816.14 L562 816.63 L568 817.15 L574 817.7 L580 818.27 L586 818.85 L592 819.45 L598 820.06 L604 820.68 L610 821.3 L616 821.92 L622 822.53 L628 823.13 L634 823.71 L640 824.27 L646 824.8 L652 825.31 L658 825.78 L664 826.21 L670 826.6 L676 826.95 L682 827.25 L688 827.5 L694 827.71 L700 827.88 L706 828.04 L712 828.17 L718 828.29 L724 828.4 L730 828.51 L736 828.62 L742 828.73 L748 828.83 L754 828.92 L760 829.02 L766 829.11 L772 829.2 L778 829.28 L784 829.36 L790 829.44 L796 829.52 L802 829.59 L808 829.66 L814 829.73 L820 829.8 L826 829.86 L832 829.92 L838 829.98 L844 830.04 L850 830.09 L856 830.14 L862 830.19 L868 830.24 L874 830.29 L880 830.33 L886 830.37 L892 830.41 L898 830.45 L904 830.48 L910 830.51 L916 830.55 L922 830.57 L928 830.6 L934 830.63 L940 830.65 L946 830.67 L952 830.7 L958 830.71 L964 830.73 L970 830.75 L976 830.76 L982 830.78 L988 830.79 L994 830.8 L1000 830.81 L1006 830.81 L1012 830.82 L1018 830.82 L1024 830.83 L1030 830.83 L1036 830.83 L1042 830.83 L1048 830.83 L1054 830.82 L1060 830.82 L1066 830.81 L1072 830.81 L1078 830.8 L1084 830.79 L1090 830.78 L1096 830.77 L1102 830.76 L1108 830.74 L1114 830.73 L1120 830.71 L1126 830.7 L1132 830.68 L1138 830.66 L1144 830.64 L1150 830.62 L1156 830.6 L1162 830.58 L1168 830.56 L1174 830.53 L1180 830.51 L1186 830.48 L1192 830.46 L1198 830.43 L1204 830.4 L1210 830.37 L1216 830.35 L1222 830.32 L1228 830.28 L1234 830.25 L1240 830.22 L1246 830.19 L1252 830.16 L1258 830.12 L1264 830.09 L1270 830.05 L1276 830.02 L1282 829.98 L1288 829.94 L1294 829.91 L1300 829.87 L1306 829.83 L1312 829.79 L1318 829.75 L1324 829.71 L1330 829.67 L1336 829.63 L1342 829.58 L1348 829.54 L1354 829.5 L1360 829.45 L1366 829.41 L1372 829.37 L1378 829.32 L1384 829.28 L1390 829.23 L1396 829.18 L1402 829.14 L1408 829.09 L1414 829.04 L1420 829 L1426 828.95 L1432 828.9 L1438 828.85 L1444 828.8 L1450 828.75 L1456 828.7 L1462 828.65 L1468 828.6 L1474 828.55 L1480 828.5 L1486 828.45 L1492 828.39 L1498 828.34 L1504 828.29 L1510 828.24 L1516 828.18 L1522 828.13 L1528 828.08 L1534 828.02 L1540 827.97 L1546 827.91 L1552 827.86 L1558 827.81 L1564 827.75 L1570 827.69 L1576 827.64 L1582 827.58 L1588 827.53 L1594 827.47 L1600 827.42 L1606 827.36 L1612 827.3 L1618 827.25 L1624 827.19 L1630 827.13 L1636 827.07 L1642 827.02 L1648 826.96 L1654 826.9 L1660 826.84 L1666 826.79 L1672 826.73 L1678 826.67 L1684 826.61 L1690 826.55 L1696 826.49 L1702 826.43 L1708 826.38 L1714 826.32 L1720 826.26 L1726 826.2 L1732 826.14 L1738 826.08 L1744 826.02 L1750 825.96 L1756 825.9 L1762 825.84 L1768 825.78 L1774 825.72 L1780 825.66 L1786 825.6 L1792 825.54 L1798 825.48 L1804 825.42 L1810 825.36 L1816 825.3 L1822 825.24 L1828 825.18 L1834 825.12 L1840 825.06 L1846 825 L1852 824.94 L1858 824.88 L1864 824.82 L1870 824.76 L1876 824.7 L1882 824.64 L1888 824.58 L1894 824.52 L1900 824.46 L1906 824.4 L1912 824.34 L1918 824.28 L1924 824.22 L1930 824.16 L1934.5 824.11"/>
<path stroke="#37ad6b" stroke-width="4.4" d="M201.07 835.8 L212 838.1 L224.04 844.3 L236.06 850.1 L240 852 L244 853.29 L250 854.82 L256 855.76 L262 856.23 L268 856.32 L274 856.1 L280 855.63 L286 854.94 L292 854.08 L298 853.06 L304 851.92 L310 850.67 L316 849.33 L322 847.91 L328 846.42 L334 844.89 L340 843.33 L346 841.75 L352 840.17 L358 838.59 L364 837.03 L370 835.49 L376 833.98 L382 832.51 L388 831.08 L394 829.7 L400 828.37 L406 827.1 L412 825.9 L418 824.78 L424 823.76 L430 822.83 L436 822.02 L442 821.33 L448 820.76 L454 820.31 L460 819.97 L466 819.74 L472 819.61 L478 819.59 L484 819.66 L490 819.82 L496 820.07 L502 820.4 L508 820.81 L514 821.31 L520 821.88 L526 822.52 L532 823.22 L538 823.97 L544 824.77 L550 825.6 L556 826.46 L562 827.33 L568 828.2 L574 829.08 L580 829.95 L586 830.81 L592 831.65 L598 832.46 L604 833.24 L610 833.99 L616 834.71 L622 835.39 L628 836.04 L634 836.67 L640 837.26 L646 837.83 L652 838.37 L658 838.89 L664 839.38 L670 839.85 L676 840.29 L682 840.71 L688 841.11 L694 841.49 L700 841.84 L706 842.18 L712 842.49 L718 842.79 L724 843.07 L730 843.33 L736 843.57 L742 843.8 L748 844.01 L754 844.2 L760 844.38 L766 844.55 L772 844.7 L778 844.83 L784 844.95 L790 845.06 L796 845.16 L802 845.24 L808 845.31 L814 845.37 L820 845.42 L826 845.46 L832 845.49 L838 845.51 L844 845.51 L850 845.51 L856 845.5 L862 845.48 L868 845.46 L874 845.42 L880 845.38 L886 845.33 L892 845.27 L898 845.2 L904 845.13 L910 845.05 L916 844.97 L922 844.88 L928 844.78 L934 844.68 L940 844.57 L946 844.46 L952 844.34 L958 844.22 L964 844.1 L970 843.97 L976 843.83 L982 843.69 L988 843.55 L994 843.41 L1000 843.26 L1006 843.11 L1012 842.96 L1018 842.8 L1024 842.64 L1030 842.48 L1036 842.32 L1042 842.15 L1048 841.99 L1054 841.82 L1060 841.65 L1066 841.48 L1072 841.3 L1078 841.13 L1084 840.96 L1090 840.78 L1096 840.6 L1102 840.43 L1108 840.25 L1114 840.07 L1120 839.89 L1126 839.72 L1132 839.54 L1138 839.36 L1144 839.18 L1150 839.01 L1156 838.83 L1162 838.65 L1168 838.48 L1174 838.3 L1180 838.13 L1186 837.95 L1192 837.78 L1198 837.61 L1204 837.44 L1210 837.27 L1216 837.11 L1222 836.94 L1228 836.78 L1234 836.62 L1240 836.46 L1246 836.3 L1252 836.14 L1258 835.99 L1264 835.83 L1270 835.68 L1276 835.53 L1282 835.38 L1288 835.23 L1294 835.09 L1300 834.94 L1306 834.8 L1312 834.66 L1318 834.52 L1324 834.39 L1330 834.25 L1336 834.12 L1342 833.99 L1348 833.86 L1354 833.74 L1360 833.61 L1366 833.49 L1372 833.37 L1378 833.25 L1384 833.13 L1390 833.02 L1396 832.91 L1402 832.8 L1408 832.69 L1414 832.58 L1420 832.48 L1426 832.37 L1432 832.27 L1438 832.18 L1444 832.08 L1450 831.99 L1456 831.9 L1462 831.81 L1468 831.72 L1474 831.63 L1480 831.55 L1486 831.47 L1492 831.39 L1498 831.32 L1504 831.24 L1510 831.17 L1516 831.1 L1522 831.04 L1528 830.97 L1534 830.91 L1540 830.85 L1546 830.79 L1552 830.74 L1558 830.68 L1564 830.63 L1570 830.58 L1576 830.54 L1582 830.49 L1588 830.45 L1594 830.41 L1600 830.38 L1606 830.34 L1612 830.31 L1618 830.28 L1624 830.25 L1630 830.23 L1636 830.21 L1642 830.19 L1648 830.17 L1654 830.16 L1660 830.14 L1666 830.13 L1672 830.13 L1678 830.12 L1684 830.12 L1690 830.12 L1696 830.12 L1702 830.13 L1708 830.14 L1714 830.15 L1720 830.16 L1726 830.17 L1732 830.19 L1738 830.21 L1744 830.23 L1750 830.26 L1756 830.29 L1762 830.32 L1768 830.35 L1774 830.39 L1780 830.43 L1786 830.47 L1792 830.51 L1798 830.56 L1804 830.6 L1810 830.65 L1816 830.71 L1822 830.76 L1828 830.82 L1834 830.88 L1840 830.95 L1846 831.02 L1852 831.08 L1858 831.16 L1864 831.23 L1870 831.31 L1876 831.39 L1882 831.47 L1888 831.55 L1894 831.64 L1900 831.73 L1906 831.83 L1912 831.92 L1918 832.02 L1924 832.12 L1930 832.22 L1934.5 832.3"/>
</g>
<g fill="none" stroke="#9bbb59" stroke-width="5" stroke-linejoin="round">
<path stroke-dasharray="8.7 3.15" d="M403.4 826 V1236.6"/>
<path stroke-dasharray="8.9 3.1" d="M580.6 827.2 V1229"/>
</g>
<text font-size="42.3" text-anchor="middle" aria-label="230Hz"><tspan x="299.3 320.4 341.5" y="1218.7">230</tspan><tspan x="362.6" y="1218.7" textLength="23" lengthAdjust="spacingAndGlyphs">H</tspan><tspan x="383.7" y="1218.7" font-size="40">z</tspan></text>
<text font-size="42.3" text-anchor="middle" aria-label="430Hz"><tspan x="606.5 627.8 649.1" y="1225">430</tspan><tspan x="670.4" y="1225" textLength="23" lengthAdjust="spacingAndGlyphs">H</tspan><tspan x="691.7" y="1225" font-size="40">z</tspan></text>
<g id="bottom-yticks">
<text font-size="52.3" text-anchor="middle" aria-label="-200"><tspan x="72.5" y="1247.3" textLength="29" lengthAdjust="spacingAndGlyphs">-</tspan><tspan x="97.6 122.7 147.8" y="1252.9">200</tspan></text>
<text font-size="52.3" text-anchor="middle" aria-label="-100"><tspan x="72.5" y="1107.92" textLength="29" lengthAdjust="spacingAndGlyphs">-</tspan><tspan x="97.6 122.7 147.8" y="1113.52">100</tspan></text>
<text font-size="52.3" text-anchor="middle" aria-label="0"><tspan x="147.8" y="974.15">0</tspan></text>
<text font-size="52.3" text-anchor="middle" aria-label="100"><tspan x="97.6 122.7 147.8" y="834.77">100</tspan></text>
<text font-size="52.3" text-anchor="middle" aria-label="200"><tspan x="97.6 122.7 147.8" y="695.4">200</tspan></text>
</g>
<g id="bottom-xticks">
<text font-size="52.3" text-anchor="middle" aria-label="0"><tspan x="200.5" y="1314.4">0</tspan></text>
<text font-size="52.3" text-anchor="middle" aria-label="500"><tspan x="608.97 634.07 659.17" y="1314.4">500</tspan></text>
<text font-size="52.3" text-anchor="middle" aria-label="1000"><tspan x="1030 1055.1 1080.2 1105.3" y="1314.4">1000</tspan></text>
<text font-size="52.3" text-anchor="middle" aria-label="1500"><tspan x="1463.57 1488.67 1513.77 1538.88" y="1314.4">1500</tspan></text>
<text font-size="52.3" text-anchor="middle" aria-label="2000"><tspan x="1897.15 1922.25 1947.35 1972.45" y="1314.4">2000</tspan></text>
</g>
<g transform="rotate(-90)"><text font-size="62.5" text-anchor="middle" aria-label="Phase(°)"><tspan x="-1050.7" y="74.2" font-size="69" textLength="29.6" lengthAdjust="spacingAndGlyphs">P</tspan><tspan x="-1020.1 -990.6 -961.5 -932.6" y="74.2">hase</tspan><tspan x="-892.9" y="65.2" font-size="61">(</tspan><tspan x="-867.4" y="59" font-size="47">°</tspan><tspan x="-812.8" y="65.2" font-size="61">)</tspan></text></g>
<text font-size="59.5" text-anchor="middle" aria-label="Frequency(Hz)"><tspan x="880.5" y="1394.8" font-size="64">F</tspan><tspan x="910.9 942.6 975 1005 1036.4 1067.5 1098.4 1130.2" y="1394.8">requency</tspan><tspan x="1165.5" y="1388.4" font-size="61">(</tspan><tspan x="1191.3" y="1394.8" font-size="64" textLength="33" lengthAdjust="spacingAndGlyphs">H</tspan><tspan x="1222.4" y="1394.8">z</tspan><tspan x="1248.2" y="1388.4" font-size="61">)</tspan></text>
</g>
</svg>
</body></html>
